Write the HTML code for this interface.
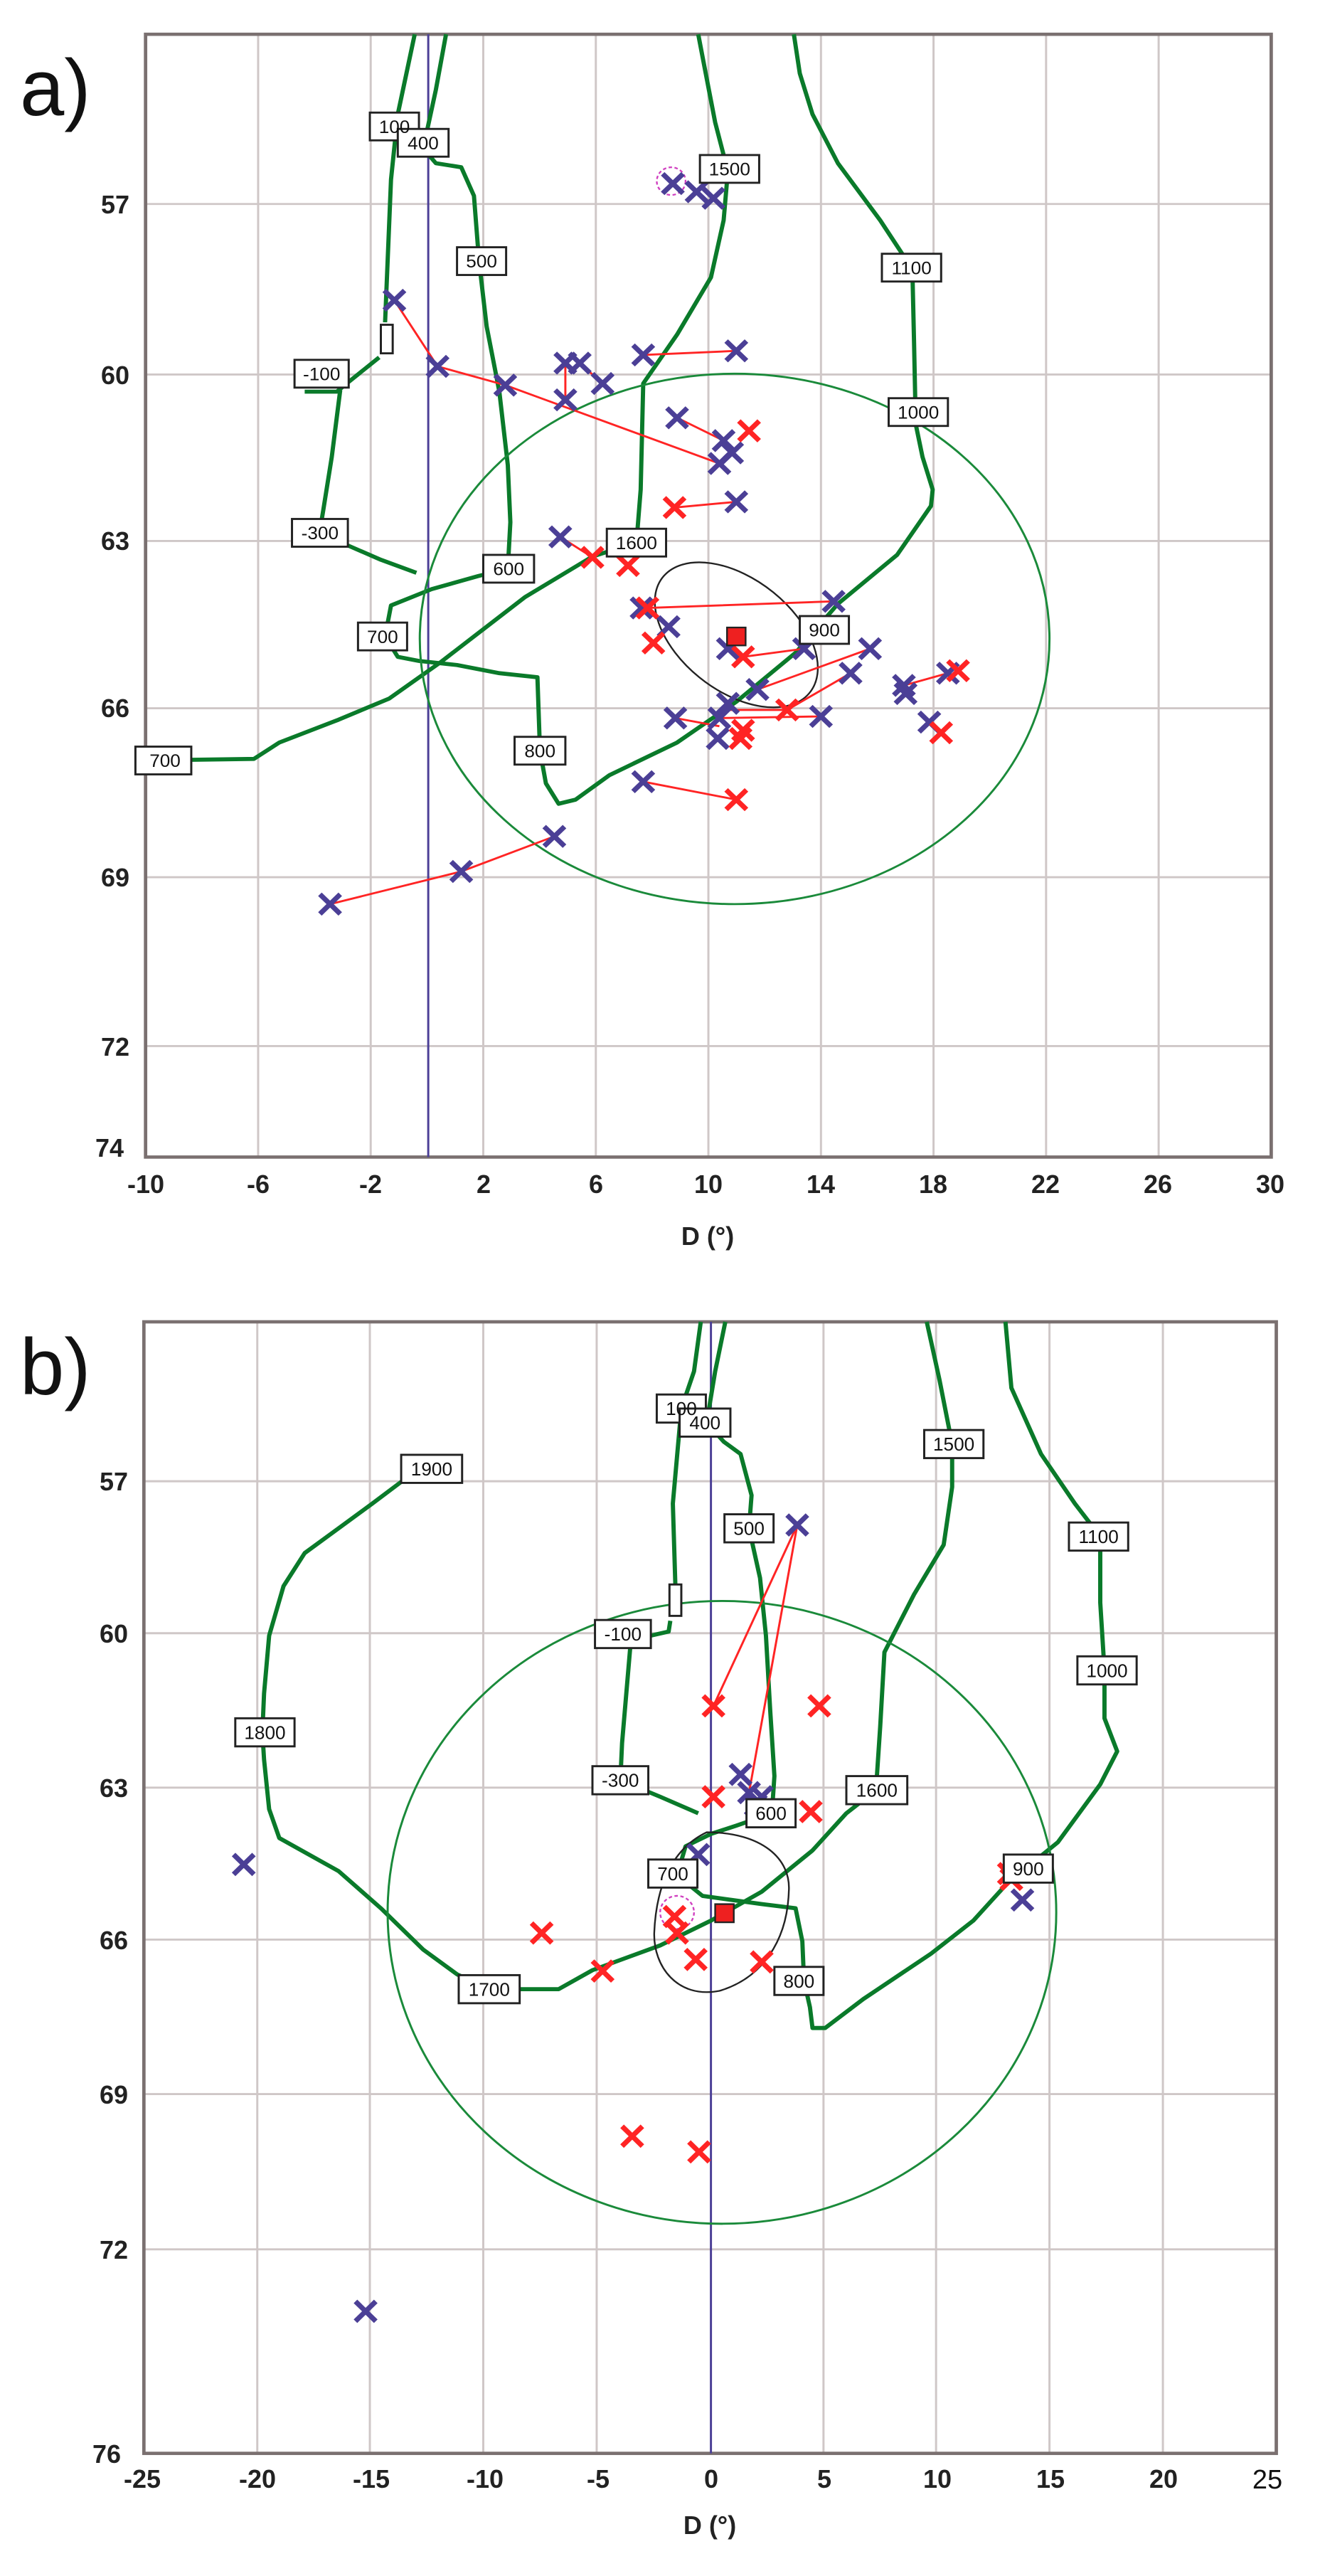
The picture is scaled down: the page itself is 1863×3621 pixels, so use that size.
<!DOCTYPE html>
<html><head><meta charset="utf-8"><style>
html,body{margin:0;padding:0;background:#fff}
svg{display:block}
.t{font-family:"Liberation Sans",Arial,sans-serif;font-weight:bold;fill:#222}
.lb{font-family:"Liberation Sans",Arial,sans-serif;font-size:22px;fill:#111}
</style></head><body>
<svg width="1863" height="3621" viewBox="0 0 1863 3621" xmlns="http://www.w3.org/2000/svg">
<defs>
<g id="bx"><path d="M-12,-12L12,12M12,-12L-12,12" stroke="#4b3f96" stroke-width="6" fill="none"/></g>
<g id="rx"><path d="M-12,-12L12,12M12,-12L-12,12" stroke="#ff2424" stroke-width="6" fill="none"/></g>
</defs>
<rect width="1863" height="3621" fill="#fff"/>

<!-- PANEL A -->
<text x="28" y="162" font-family="Liberation Sans,sans-serif" font-size="112" fill="#111">a)</text>
<g transform="scale(1.19,1.147)">
<g stroke="#cfc7c7" stroke-width="2.5">
<line x1="305" y1="42" x2="305" y2="1418"/><line x1="438" y1="42" x2="438" y2="1418"/><line x1="571" y1="42" x2="571" y2="1418"/><line x1="704" y1="42" x2="704" y2="1418"/><line x1="837" y1="42" x2="837" y2="1418"/><line x1="970" y1="42" x2="970" y2="1418"/><line x1="1103" y1="42" x2="1103" y2="1418"/><line x1="1236" y1="42" x2="1236" y2="1418"/><line x1="1369" y1="42" x2="1369" y2="1418"/>
<line x1="172" y1="250" x2="1502" y2="250"/><line x1="172" y1="459" x2="1502" y2="459"/><line x1="172" y1="663" x2="1502" y2="663"/><line x1="172" y1="868" x2="1502" y2="868"/><line x1="172" y1="1075" x2="1502" y2="1075"/><line x1="172" y1="1282" x2="1502" y2="1282"/>
</g>
<rect x="172" y="42" width="1330" height="1376" fill="none" stroke="#7a7070" stroke-width="4"/>
<line x1="506" y1="42" x2="506" y2="1418" stroke="#4b3f96" stroke-width="2.5"/>
<g fill="none" stroke="#0a7a2a" stroke-width="5" stroke-linejoin="round">
<path d="M490,42 L470,140 L462,220 L458,320 L455,395"/>
<path d="M448,438 L412,468 L398,480 L360,480 M402,478 L392,560 L382,625 L378,650 M410,668 L450,686 L492,702"/>
<path d="M527,42 L515,110 L500,182 L515,200 L545,205 L560,240 L566,320 L575,400 L590,480 L600,570 L603,640 L600,697 L565,706 L510,722 L462,742 L455,780 L470,805 L495,810 L540,815 L590,825 L635,830 L638,920 L645,960 L660,985 L680,980 L720,950 L800,910 L870,860 L940,800 L990,740 L1060,680 L1100,620 L1102,600 L1090,560 L1082,520 L1080,420 L1078,330 L1040,270 L990,200 L960,140 L945,90 L938,42"/>
<path d="M172,932 L300,930 L330,910 L400,882 L460,856 L520,812 L570,772 L620,732 L700,682 L752,665 L757,600 L760,470 L800,410 L840,340 L855,270 L860,210 L845,150 L832,80 L825,42"/>
</g>
<ellipse cx="868" cy="783" rx="372" ry="325" fill="none" stroke="#1a8a3a" stroke-width="2.5"/>
<ellipse cx="870" cy="778" rx="112" ry="68" transform="rotate(40 870 778)" fill="none" stroke="#222" stroke-width="2"/>
<circle cx="793" cy="222" r="17" fill="none" stroke="#d040c0" stroke-width="2" stroke-dasharray="4 3"/>
<g stroke="#ff2424" stroke-width="2.5" fill="none">
<path d="M466,368 L517,449 L597,472 L850,568"/>
<path d="M668,445 L668,490 M685,445 L712,470 M760,435 L870,430 M800,512 L855,540 M797,622 L870,615 M662,658 L700,683 M765,745 L985,737 M760,958 L870,980 M390,1108 L545,1068 L655,1025 M895,845 L1028,795 M860,870 L930,870 L1005,825 M798,880 L850,890 M1068,840 L1120,825 M1098,885 L1112,898 M878,805 L950,795 M850,880 L970,878"/>
</g>
<g>
<use href="#bx" x="795" y="225"/><use href="#bx" x="823" y="235"/><use href="#bx" x="843" y="243"/><use href="#bx" x="466" y="368"/><use href="#bx" x="517" y="449"/><use href="#bx" x="597" y="472"/><use href="#bx" x="668" y="445"/><use href="#bx" x="685" y="445"/><use href="#bx" x="712" y="470"/><use href="#bx" x="668" y="490"/><use href="#bx" x="760" y="435"/><use href="#bx" x="870" y="430"/><use href="#bx" x="800" y="512"/><use href="#bx" x="855" y="540"/><use href="#bx" x="865" y="555"/><use href="#bx" x="850" y="568"/><use href="#bx" x="870" y="615"/><use href="#bx" x="662" y="658"/><use href="#bx" x="758" y="745"/><use href="#bx" x="790" y="768"/><use href="#bx" x="860" y="795"/><use href="#bx" x="985" y="737"/><use href="#bx" x="950" y="795"/><use href="#bx" x="1028" y="795"/><use href="#bx" x="1005" y="825"/><use href="#bx" x="1068" y="840"/><use href="#bx" x="1070" y="850"/><use href="#bx" x="1120" y="825"/><use href="#bx" x="1098" y="885"/><use href="#bx" x="895" y="845"/><use href="#bx" x="970" y="878"/><use href="#bx" x="798" y="880"/><use href="#bx" x="850" y="880"/><use href="#bx" x="860" y="862"/><use href="#bx" x="848" y="905"/><use href="#bx" x="760" y="958"/><use href="#bx" x="655" y="1025"/><use href="#bx" x="545" y="1068"/><use href="#bx" x="390" y="1108"/>
<use href="#rx" x="885" y="528"/><use href="#rx" x="797" y="622"/><use href="#rx" x="700" y="683"/><use href="#rx" x="742" y="693"/><use href="#rx" x="765" y="745"/><use href="#rx" x="772" y="788"/><use href="#rx" x="878" y="805"/><use href="#rx" x="930" y="870"/><use href="#rx" x="878" y="895"/><use href="#rx" x="875" y="905"/><use href="#rx" x="870" y="980"/><use href="#rx" x="1132" y="822"/><use href="#rx" x="1112" y="898"/>
</g>
<rect x="859" y="769" width="22" height="22" fill="#ee2020" stroke="#222" stroke-width="2"/>
<g stroke="#222" stroke-width="2.5" fill="#fff">
<rect x="437" y="138" width="58" height="34"/><rect x="470" y="158" width="60" height="34"/><rect x="540" y="303" width="58" height="34"/><rect x="827" y="190" width="70" height="34"/><rect x="1042" y="311" width="70" height="34"/><rect x="1050" y="488" width="70" height="34"/><rect x="348" y="441" width="64" height="34"/><rect x="345" y="636" width="66" height="34"/><rect x="717" y="648" width="70" height="34"/><rect x="571" y="680" width="60" height="34"/><rect x="423" y="763" width="58" height="34"/><rect x="945" y="755" width="58" height="34"/><rect x="608" y="903" width="60" height="34"/><rect x="160" y="915" width="66" height="34"/><rect x="450" y="398" width="14" height="35"/>
</g>
<g class="lb" text-anchor="middle">
<text x="466" y="163">100</text><text x="500" y="183">400</text><text x="569" y="328">500</text><text x="862" y="215">1500</text><text x="1077" y="336">1100</text><text x="1085" y="513">1000</text><text x="380" y="466">-100</text><text x="378" y="661">-300</text><text x="752" y="673">1600</text><text x="601" y="705">600</text><text x="452" y="788">700</text><text x="974" y="780">900</text><text x="638" y="928">800</text><text x="195" y="940">700</text>
</g>
</g>
<g class="t" font-size="36" text-anchor="end">
<text x="182" y="300">57</text><text x="182" y="540">60</text><text x="182" y="773">63</text><text x="182" y="1008">66</text><text x="182" y="1246">69</text><text x="182" y="1484">72</text><text x="174" y="1626">74</text>
</g>
<g class="t" font-size="36" text-anchor="middle">
<text x="205" y="1677">-10</text><text x="363" y="1677">-6</text><text x="521" y="1677">-2</text><text x="680" y="1677">2</text><text x="838" y="1677">6</text><text x="996" y="1677">10</text><text x="1154" y="1677">14</text><text x="1312" y="1677">18</text><text x="1470" y="1677">22</text><text x="1628" y="1677">26</text><text x="1786" y="1677">30</text>
<text x="995" y="1750">D (°)</text>
</g>

<!-- PANEL B -->
<text x="28" y="1960" font-family="Liberation Sans,sans-serif" font-size="112" fill="#111">b)</text>
<g transform="translate(0,1800) scale(1.19,1.161)">
<g stroke="#cfc7c7" stroke-width="2.5">
<line x1="304" y1="50" x2="304" y2="1420"/><line x1="437" y1="50" x2="437" y2="1420"/><line x1="571" y1="50" x2="571" y2="1420"/><line x1="705" y1="50" x2="705" y2="1420"/><line x1="973" y1="50" x2="973" y2="1420"/><line x1="1106" y1="50" x2="1106" y2="1420"/><line x1="1240" y1="50" x2="1240" y2="1420"/><line x1="1374" y1="50" x2="1374" y2="1420"/>
<line x1="170" y1="243" x2="1508" y2="243"/><line x1="170" y1="427" x2="1508" y2="427"/><line x1="170" y1="614" x2="1508" y2="614"/><line x1="170" y1="798" x2="1508" y2="798"/><line x1="170" y1="985" x2="1508" y2="985"/><line x1="170" y1="1173" x2="1508" y2="1173"/>
</g>
<rect x="170" y="50" width="1338" height="1370" fill="none" stroke="#7a7070" stroke-width="4"/>
<line x1="840" y1="50" x2="840" y2="1420" stroke="#4b3f96" stroke-width="2.5"/>
<g fill="none" stroke="#0a7a2a" stroke-width="5" stroke-linejoin="round">
<path d="M475,243 L440,270 L400,300 L360,330 L335,370 L318,430 L312,500 L310,547 L312,580 L318,640 L330,675 L400,715 L450,760 L500,810 L540,840 L578,858 L660,858 L700,835 L780,805 L840,775 L900,740 L960,690 L1000,645 L1035,617 L1040,540 L1045,450 L1080,380 L1115,320 L1125,250 L1125,198 L1110,120 L1095,50"/>
<path d="M828,50 L820,110 L805,155 L795,270 L798,370 M792,412 L790,425 L760,432 M745,440 L740,500 L735,560 L733,605 L780,625 L825,645"/>
<path d="M857,50 L845,110 L835,172 L855,195 L875,210 L888,260 L885,300 L898,360 L905,430 L910,520 L915,600 L912,645 L870,660 L840,670 L810,685 L800,720 L830,745 L900,755 L940,760 L948,800 L950,848 L957,880 L960,905 L975,905 L1020,870 L1100,815 L1150,775 L1190,730 L1250,680 L1300,610 L1320,570 L1305,530 L1305,472 L1300,390 L1300,310 L1270,270 L1230,210 L1195,130 L1188,50"/>
</g>
<ellipse cx="853" cy="765" rx="395" ry="377" fill="none" stroke="#1a8a3a" stroke-width="2.5"/>
<path d="M835,668 C900,668 935,700 932,740 C930,800 900,845 850,860 C800,870 772,830 773,790 C775,740 790,690 835,668 Z" fill="none" stroke="#222" stroke-width="2"/>
<circle cx="800" cy="765" r="20" fill="none" stroke="#d040c0" stroke-width="2" stroke-dasharray="4 3"/>
<g stroke="#ff2424" stroke-width="2.5" fill="none"><path d="M942,296 L843,515 M942,296 L885,620"/></g>
<g>
<use href="#bx" x="942" y="296"/><use href="#bx" x="875" y="598"/><use href="#bx" x="885" y="620"/><use href="#bx" x="900" y="625"/><use href="#bx" x="893" y="635"/><use href="#bx" x="825" y="695"/><use href="#bx" x="288" y="707"/><use href="#bx" x="1208" y="750"/><use href="#bx" x="432" y="1248"/>
<use href="#rx" x="843" y="515"/><use href="#rx" x="968" y="515"/><use href="#rx" x="843" y="625"/><use href="#rx" x="958" y="643"/><use href="#rx" x="1192" y="718"/><use href="#rx" x="1195" y="725"/><use href="#rx" x="797" y="770"/><use href="#rx" x="800" y="790"/><use href="#rx" x="640" y="790"/><use href="#rx" x="712" y="836"/><use href="#rx" x="822" y="822"/><use href="#rx" x="900" y="825"/><use href="#rx" x="747" y="1036"/><use href="#rx" x="826" y="1055"/>
</g>
<rect x="845" y="755" width="22" height="22" fill="#ee2020" stroke="#222" stroke-width="2"/>
<g stroke="#222" stroke-width="2.5" fill="#fff">
<rect x="776" y="138" width="58" height="34"/><rect x="803" y="155" width="60" height="34"/><rect x="474" y="211" width="72" height="34"/><rect x="856" y="283" width="58" height="34"/><rect x="1092" y="181" width="70" height="34"/><rect x="1263" y="293" width="70" height="34"/><rect x="1273" y="455" width="70" height="34"/><rect x="703" y="411" width="66" height="34"/><rect x="278" y="530" width="70" height="34"/><rect x="700" y="588" width="66" height="34"/><rect x="1000" y="600" width="72" height="34"/><rect x="882" y="628" width="58" height="34"/><rect x="766" y="701" width="58" height="34"/><rect x="1186" y="695" width="58" height="34"/><rect x="915" y="831" width="58" height="34"/><rect x="542" y="841" width="72" height="34"/><rect x="791" y="368" width="14" height="38"/>
</g>
<g class="lb" text-anchor="middle">
<text x="805" y="163">100</text><text x="833" y="180">400</text><text x="510" y="236">1900</text><text x="885" y="308">500</text><text x="1127" y="206">1500</text><text x="1298" y="318">1100</text><text x="1308" y="480">1000</text><text x="736" y="436">-100</text><text x="313" y="555">1800</text><text x="733" y="613">-300</text><text x="1036" y="625">1600</text><text x="911" y="653">600</text><text x="795" y="726">700</text><text x="1215" y="720">900</text><text x="944" y="856">800</text><text x="578" y="866">1700</text>
</g>
</g>
<g class="t" font-size="36" text-anchor="end">
<text x="180" y="2095">57</text><text x="180" y="2309">60</text><text x="180" y="2526">63</text><text x="180" y="2740">66</text><text x="180" y="2957">69</text><text x="180" y="3175">72</text><text x="170" y="3462">76</text>
</g>
<g class="t" font-size="36" text-anchor="middle">
<text x="200" y="3497">-25</text><text x="362" y="3497">-20</text><text x="522" y="3497">-15</text><text x="682" y="3497">-10</text><text x="841" y="3497">-5</text><text x="1000" y="3497">0</text><text x="1159" y="3497">5</text><text x="1318" y="3497">10</text><text x="1477" y="3497">15</text><text x="1636" y="3497">20</text>
<text x="998" y="3562">D (°)</text>
</g>
<text x="1782" y="3498" text-anchor="middle" font-family="Liberation Sans,sans-serif" font-size="38" fill="#111">25</text>
</svg>
</body></html>
